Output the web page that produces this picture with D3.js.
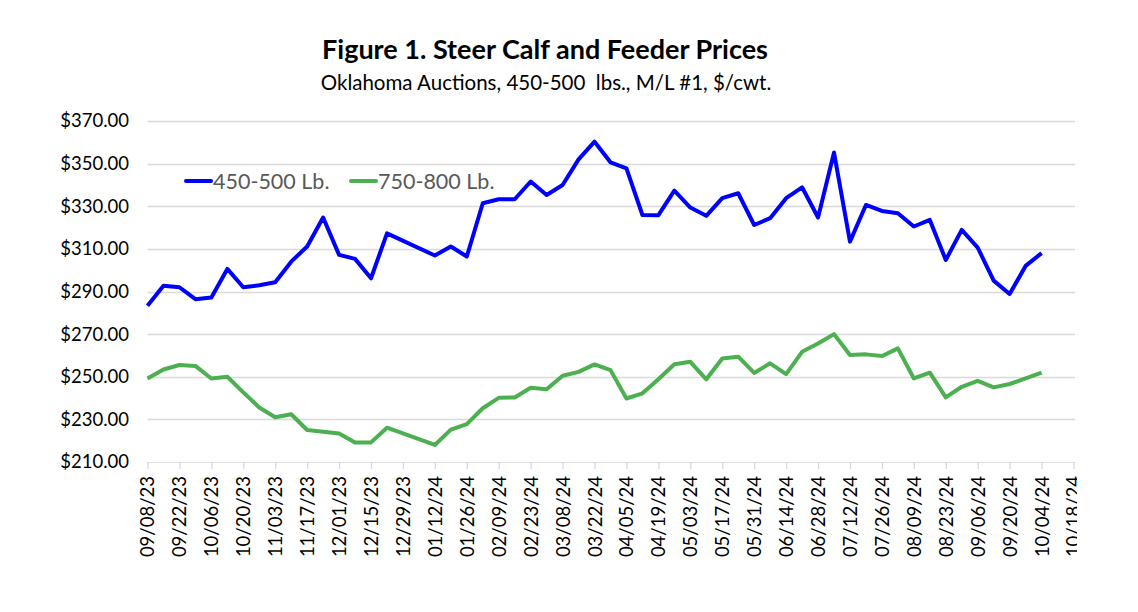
<!DOCTYPE html>
<html>
<head>
<meta charset="utf-8">
<script src="https://cdn.jsdelivr.net/npm/d3@7"></script>
<style>
  body { margin: 0; background: #fff; }
  text { font-family: Lato, "Open Sans", sans-serif; }
</style>
</head>
<body>
<div id="chart"></div>
<script>
// weekly sale dates (no sales 12/29 and 01/05)
var dates = ["09/08/23","09/15/23","09/22/23","09/29/23","10/06/23","10/13/23","10/20/23","10/27/23",
  "11/03/23","11/10/23","11/17/23","11/24/23","12/01/23","12/08/23","12/15/23","12/22/23",
  "01/12/24","01/19/24","01/26/24","02/02/24","02/09/24","02/16/24","02/23/24","03/01/24",
  "03/08/24","03/15/24","03/22/24","03/29/24","04/05/24","04/12/24","04/19/24","04/26/24",
  "05/03/24","05/10/24","05/17/24","05/24/24","05/31/24","06/07/24","06/14/24","06/21/24",
  "06/28/24","07/05/24","07/12/24","07/19/24","07/26/24","08/02/24","08/09/24","08/16/24",
  "08/23/24","08/30/24","09/06/24","09/13/24","09/20/24","09/27/24","10/04/24"];

var calf = [283.3, 292.7, 292.0, 286.4, 287.2, 300.6, 292.0, 292.9, 294.3, 304.0, 311.1, 324.7, 307.2, 305.3, 296.2, 317.3,
  306.9, 311.1, 306.4, 331.4, 333.3, 333.3, 341.6, 335.3, 340.0, 352.0, 360.3, 350.6, 347.8, 325.9, 325.8, 337.3,
  329.4, 325.5, 333.8, 336.1, 321.2, 324.4, 333.8, 338.9, 324.7, 355.2, 313.4, 330.6, 327.8, 326.7, 320.5, 323.6,
  304.8, 318.9, 310.6, 295.1, 288.8, 302.0, 308.0];

var feeder = [249.2, 253.4, 255.5, 255.1, 249.2, 250.0, 242.7, 235.6, 231.0, 232.4, 225.0, 224.2, 223.4, 219.2, 219.2, 226.1,
  218.0, 225.2, 227.8, 235.2, 240.1, 240.3, 244.8, 244.1, 250.5, 252.3, 255.8, 253.1, 239.8, 242.2, 248.8, 255.9,
  257.0, 248.8, 258.6, 259.4, 251.8, 256.3, 251.2, 261.7, 265.6, 270.0, 260.2, 260.5, 259.7, 263.3, 249.2, 251.9,
  240.3, 245.3, 248.1, 245.0, 246.6, 249.2, 251.9];

var xTicks = ["09/08/23","09/22/23","10/06/23","10/20/23","11/03/23","11/17/23","12/01/23","12/15/23","12/29/23",
  "01/12/24","01/26/24","02/09/24","02/23/24","03/08/24","03/22/24","04/05/24","04/19/24","05/03/24","05/17/24",
  "05/31/24","06/14/24","06/28/24","07/12/24","07/26/24","08/09/24","08/23/24","09/06/24","09/20/24","10/04/24","10/18/24"];
var yTicks = [210, 230, 250, 270, 290, 310, 330, 350, 370];
var seriesNames = ["450-500 Lb.", "750-800 Lb."];
var colors = ["#0000ff", "#4caf50"];

var W = 1138, H = 612;
var parse = d3.timeParse("%m/%d/%y");

var svg = d3.select("#chart").append("svg")
    .attr("width", W)
    .attr("height", H);

var x = d3.scaleTime()
    .domain([parse(xTicks[0]), parse(xTicks[xTicks.length - 1])])
    .range([147.5, 1073.5]);
var y = d3.scaleLinear().domain([210, 370]).range([462, 121]);

// titles
svg.append("text").attr("x", 545).attr("y", 59).attr("text-anchor", "middle")
    .style("font-size", "27px").style("font-weight", "bold").attr("fill", "#000")
    .text("Figure 1. Steer Calf and Feeder Prices");
svg.append("text").attr("x", 546).attr("y", 90).attr("text-anchor", "middle")
    .style("font-size", "20.5px").style("white-space", "pre").attr("fill", "#000")
    .text("Oklahoma Auctions, 450-500  lbs., M/L #1, $/cwt.");

// gridlines
svg.append("g").selectAll("line").data(yTicks.slice(1)).join("line")
    .attr("x1", 147.5).attr("x2", 1075)
    .attr("y1", function(d){ return Math.round(y(d)) + 0.5; })
    .attr("y2", function(d){ return Math.round(y(d)) + 0.5; })
    .attr("stroke", "#d9d9d9").attr("stroke-width", 1.3);

// y axis
var yAxis = d3.axisLeft(y).tickValues(yTicks).tickSize(0).tickPadding(0)
    .tickFormat(function(d){ return "$" + d3.format(".2f")(d); });
var yg = svg.append("g").attr("transform", "translate(129,0)").call(yAxis);
yg.select(".domain").remove();
yg.selectAll("text").style("font-size", "18.5px").attr("fill", "#000").attr("font-family", "Lato");

// x axis
var clip = svg.append("clipPath").attr("id", "clipx").append("rect")
    .attr("x", 0).attr("y", 0).attr("width", 1077).attr("height", H);
var xAxis = d3.axisBottom(x).tickValues(xTicks.map(parse)).tickSize(7).tickPadding(6)
    .tickFormat(d3.timeFormat("%m/%d/%y"));
var xg = svg.append("g").attr("transform", "translate(0,462)").attr("clip-path", "url(#clipx)").call(xAxis);
xg.select(".domain").attr("stroke", "#d9d9d9").attr("stroke-width", 1.5).attr("d", "M147.5,0H1075");
xg.selectAll(".tick line").attr("stroke", "#d9d9d9").attr("stroke-width", 1.3);
xg.selectAll(".tick text")
    .style("font-size", "18.5px").attr("fill", "#000").attr("font-family", "Lato")
    .attr("text-anchor", "end")
    .attr("transform", "rotate(-90)")
    .attr("x", -14).attr("y", 0).attr("dy", "0.35em");

// lines
var series = [calf, feeder];
var line = d3.line()
    .x(function(d, i){ return x(parse(dates[i])); })
    .y(function(d){ return y(d); });
svg.append("g").selectAll("path").data(series).join("path")
    .attr("d", line)
    .attr("fill", "none")
    .attr("stroke", function(d, i){ return colors[i]; })
    .attr("stroke-width", 4)
    .attr("stroke-linejoin", "round");

// legend
var legX = [186, 351];
var leg = svg.append("g").selectAll("g").data(seriesNames).join("g")
    .attr("transform", function(d, i){ return "translate(" + legX[i] + ",181)"; });
leg.append("line").attr("x1", 0).attr("x2", 25).attr("y1", 0).attr("y2", 0)
    .attr("stroke", function(d, i){ return colors[i]; }).attr("stroke-width", 4)
    .attr("stroke-linecap", "round");
leg.append("text").attr("x", 27).attr("y", 0).attr("dy", "0.36em")
    .style("font-size", "21.5px").attr("fill", "#595959")
    .text(function(d){ return d; });
</script>
</body>
</html>
